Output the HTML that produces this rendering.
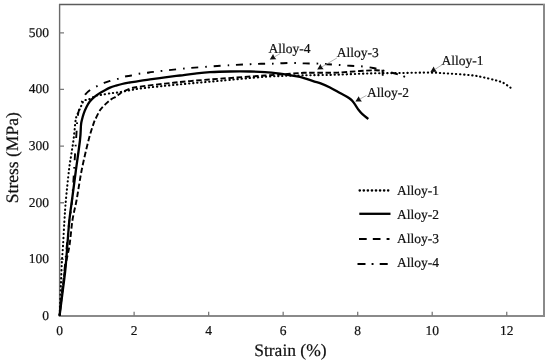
<!DOCTYPE html>
<html><head><meta charset="utf-8"><title>Stress-strain curves</title><style>
html,body{margin:0;padding:0;background:#fff;}
body{width:550px;height:364px;overflow:hidden;}
svg{display:block;}
text{font-family:"Liberation Serif","Times New Roman",serif;fill:#111;text-rendering:geometricPrecision;stroke:#111;stroke-width:0.2px;}
.tk{font-size:13.5px;}
.ax{font-size:17.5px;}
.lg{font-size:13.5px;}
path{fill:none;}
.c1{stroke:#000;stroke-width:2.1;stroke-dasharray:0.3 3.75;stroke-dashoffset:3.4;stroke-linecap:round;}
.c2{stroke:#000;stroke-width:2.3;}
.c3{stroke:#000;stroke-width:1.9;stroke-dasharray:5.5 2.6;stroke-dashoffset:1.5;}
.c3e{stroke:#000;stroke-width:1.8;}
.c4{stroke:#000;stroke-width:1.9;stroke-dasharray:7 6.9 1.6 6.8;}
</style></head><body>
<svg width="550" height="364" viewBox="0 0 550 364">
<path d="M59.00,4.50 H545.00" stroke="#5c5c5c" stroke-width="1.3" fill="none"/>
<path d="M59.60,3.90 V317.00" stroke="#6a6a6a" stroke-width="1.4" fill="none"/>
<path d="M544.00,3.90 V317.00" stroke="#8a8a8a" stroke-width="2" fill="none"/>
<path d="M58.90,316.00 H545.00" stroke="#8a8a8a" stroke-width="2" fill="none"/>
<path d="M59.60,259.36h4.4 M59.60,202.73h4.4 M59.60,146.09h4.4 M59.60,89.45h4.4 M59.60,32.82h4.4 M134.12,316.00v-4.2 M208.65,316.00v-4.2 M283.17,316.00v-4.2 M357.69,316.00v-4.2 M432.22,316.00v-4.2 M506.74,316.00v-4.2" stroke="#7a7a7a" stroke-width="1.3" fill="none"/>
<text class="tk" x="48.9" y="319.90" text-anchor="end">0</text>
<text class="tk" x="48.9" y="263.26" text-anchor="end">100</text>
<text class="tk" x="48.9" y="206.63" text-anchor="end">200</text>
<text class="tk" x="48.9" y="149.99" text-anchor="end">300</text>
<text class="tk" x="48.9" y="93.35" text-anchor="end">400</text>
<text class="tk" x="48.9" y="36.72" text-anchor="end">500</text>
<text class="tk" x="59.60" y="335.0" text-anchor="middle">0</text>
<text class="tk" x="134.12" y="335.0" text-anchor="middle">2</text>
<text class="tk" x="208.65" y="335.0" text-anchor="middle">4</text>
<text class="tk" x="283.17" y="335.0" text-anchor="middle">6</text>
<text class="tk" x="357.69" y="335.0" text-anchor="middle">8</text>
<text class="tk" x="432.22" y="335.0" text-anchor="middle">10</text>
<text class="tk" x="506.74" y="335.0" text-anchor="middle">12</text>
<text class="ax" x="290.4" y="356.3" text-anchor="middle">Strain (%)</text>
<text class="ax" transform="translate(17.9,157.7) rotate(-90)" x="0" y="0" text-anchor="middle">Stress (MPa)</text>
<path class="c1" d="M59.60,315.60 C59.92,308.00 61.10,279.27 61.50,270.00 C61.90,260.73 61.75,264.00 62.00,260.00 C62.25,256.00 62.60,252.50 63.00,246.00 C63.40,239.50 63.92,228.67 64.40,221.00 C64.88,213.33 65.13,208.50 65.90,200.00 C66.67,191.50 68.12,177.50 69.00,170.00 C69.88,162.50 70.45,160.00 71.20,155.00 C71.95,150.00 72.80,145.50 73.50,140.00 C74.20,134.50 74.98,125.67 75.40,122.00 C75.82,118.33 75.53,119.58 76.00,118.00 C76.47,116.42 77.37,114.43 78.20,112.50 C79.03,110.57 80.27,108.05 81.00,106.40 C81.73,104.75 82.05,103.60 82.60,102.60 C83.15,101.60 83.57,100.87 84.30,100.40 C85.03,99.93 86.00,100.08 87.00,99.80 C88.00,99.52 88.73,99.40 90.30,98.70 C91.87,98.00 94.47,96.25 96.40,95.60 C98.33,94.95 99.57,95.18 101.90,94.80 C104.23,94.42 108.13,93.63 110.40,93.30 C112.67,92.97 113.80,93.02 115.50,92.80 C117.20,92.58 118.18,92.42 120.60,92.00 C123.02,91.58 126.77,90.88 130.00,90.30 C133.23,89.72 134.17,89.25 140.00,88.50 C145.83,87.75 156.67,86.65 165.00,85.80 C173.33,84.95 180.83,84.23 190.00,83.40 C199.17,82.57 207.50,81.90 220.00,80.80 C232.50,79.70 251.67,77.70 265.00,76.80 C278.33,75.90 290.83,75.68 300.00,75.40 C309.17,75.12 313.33,75.23 320.00,75.10 C326.67,74.97 331.67,74.88 340.00,74.60 C348.33,74.32 360.00,73.67 370.00,73.40 C380.00,73.13 390.00,73.13 400.00,73.00 C410.00,72.87 421.67,72.50 430.00,72.60 C438.33,72.70 443.03,73.15 450.00,73.60 C456.97,74.05 466.20,74.67 471.80,75.30 C477.40,75.93 479.65,76.57 483.60,77.40 C487.55,78.23 492.23,79.40 495.50,80.30 C498.77,81.20 500.70,81.58 503.20,82.80 C505.70,84.02 509.28,86.80 510.50,87.60"/>
<path class="c3" d="M59.60,315.60 C60.47,308.00 63.17,281.60 64.80,270.00 C66.43,258.40 68.12,254.33 69.40,246.00 C70.68,237.67 71.30,227.67 72.50,220.00 C73.70,212.33 75.07,208.33 76.60,200.00 C78.13,191.67 79.70,180.00 81.70,170.00 C83.70,160.00 86.58,147.85 88.60,140.00 C90.62,132.15 92.57,126.57 93.80,122.90 C95.03,119.23 95.08,119.92 96.00,118.00 C96.92,116.08 98.33,113.07 99.30,111.40 C100.27,109.73 100.85,109.13 101.80,108.00 C102.75,106.87 103.85,105.73 105.00,104.60 C106.15,103.47 107.62,102.12 108.70,101.20 C109.78,100.28 110.23,99.90 111.50,99.10 C112.77,98.30 115.05,97.20 116.30,96.40 C117.55,95.60 117.88,95.10 119.00,94.30 C120.12,93.50 121.05,92.58 123.00,91.60 C124.95,90.62 127.87,89.23 130.70,88.40 C133.53,87.57 134.28,87.40 140.00,86.60 C145.72,85.80 156.67,84.52 165.00,83.60 C173.33,82.68 180.83,81.92 190.00,81.10 C199.17,80.28 207.50,79.63 220.00,78.70 C232.50,77.77 253.33,76.32 265.00,75.50 C276.67,74.68 283.50,74.25 290.00,73.80 C296.50,73.35 299.00,72.97 304.00,72.80 C309.00,72.63 314.33,72.83 320.00,72.80 C325.67,72.77 331.33,72.90 338.00,72.60 C344.67,72.30 353.83,71.38 360.00,71.00 C366.17,70.62 371.50,70.37 375.00,70.30 C378.50,70.23 380.00,70.55 381.00,70.60"/>
<path class="c3e" d="M382.4,69.8 L382.8,75.8"/>
<path class="c4" d="M59.60,315.60 C60.42,308.00 63.30,281.60 64.50,270.00 C65.70,258.40 66.02,254.00 66.80,246.00 C67.58,238.00 68.55,227.67 69.20,222.00 C69.85,216.33 70.22,215.67 70.70,212.00 C71.18,208.33 71.62,205.67 72.10,200.00 C72.58,194.33 73.12,185.50 73.60,178.00 C74.08,170.50 74.52,162.50 75.00,155.00 C75.48,147.50 76.12,138.83 76.50,133.00 C76.88,127.17 76.97,123.50 77.30,120.00 C77.63,116.50 77.98,114.33 78.50,112.00 C79.02,109.67 79.65,108.17 80.40,106.00 C81.15,103.83 82.17,100.95 83.00,99.00 C83.83,97.05 84.20,95.82 85.40,94.30 C86.60,92.78 88.25,91.27 90.20,89.90 C92.15,88.53 94.78,87.27 97.10,86.10 C99.42,84.93 101.98,83.75 104.10,82.90 C106.22,82.05 107.52,81.68 109.80,81.00 C112.08,80.32 115.25,79.55 117.80,78.80 C120.35,78.05 122.83,77.05 125.10,76.50 C127.37,75.95 129.07,75.97 131.40,75.50 C133.73,75.03 136.45,74.17 139.10,73.70 C141.75,73.23 144.65,73.03 147.30,72.70 C149.95,72.37 147.88,72.48 155.00,71.70 C162.12,70.92 177.50,69.08 190.00,68.00 C202.50,66.92 220.00,65.83 230.00,65.20 C240.00,64.57 244.83,64.43 250.00,64.20 C255.17,63.97 257.33,63.88 261.00,63.80 C264.67,63.72 268.33,63.80 272.00,63.70 C275.67,63.60 279.30,63.32 283.00,63.20 C286.70,63.08 290.53,62.97 294.20,63.00 C297.87,63.03 301.30,63.32 305.00,63.40 C308.70,63.48 312.73,63.37 316.40,63.50 C320.07,63.63 323.37,63.97 327.00,64.20 C330.63,64.43 334.37,64.63 338.20,64.90 C342.03,65.17 346.20,65.57 350.00,65.80 C353.80,66.03 357.17,65.93 361.00,66.30 C364.83,66.67 369.50,67.33 373.00,68.00 C376.50,68.67 378.67,69.47 382.00,70.30 C385.33,71.13 389.33,72.00 393.00,73.00 C396.67,74.00 402.17,75.75 404.00,76.30"/>
<path class="c2" d="M59.60,315.60 C60.14,311.33 61.93,297.27 62.85,290.00 C63.77,282.73 64.54,277.00 65.10,272.00 C65.66,267.00 65.83,264.33 66.20,260.00 C66.57,255.67 66.77,252.67 67.30,246.00 C67.83,239.33 68.55,228.17 69.40,220.00 C70.25,211.83 71.33,205.17 72.40,197.00 C73.47,188.83 74.53,180.50 75.80,171.00 C77.07,161.50 79.13,147.67 80.00,140.00 C80.87,132.33 80.68,128.33 81.00,125.00 C81.32,121.67 81.45,121.90 81.90,120.00 C82.35,118.10 82.93,115.77 83.70,113.60 C84.47,111.43 85.48,109.02 86.50,107.00 C87.52,104.98 88.52,103.15 89.80,101.50 C91.08,99.85 92.73,98.37 94.20,97.10 C95.67,95.83 96.88,95.02 98.60,93.90 C100.32,92.78 102.60,91.45 104.50,90.40 C106.40,89.35 108.08,88.40 110.00,87.60 C111.92,86.80 114.00,86.20 116.00,85.60 C118.00,85.00 119.67,84.52 122.00,84.00 C124.33,83.48 127.00,83.03 130.00,82.50 C133.00,81.97 136.67,81.32 140.00,80.80 C143.33,80.28 145.83,79.97 150.00,79.40 C154.17,78.83 160.00,78.05 165.00,77.40 C170.00,76.75 175.00,76.13 180.00,75.50 C185.00,74.87 190.00,74.15 195.00,73.60 C200.00,73.05 204.17,72.55 210.00,72.20 C215.83,71.85 223.33,71.62 230.00,71.50 C236.67,71.38 244.17,71.40 250.00,71.50 C255.83,71.60 260.00,71.73 265.00,72.10 C270.00,72.47 275.83,73.18 280.00,73.70 C284.17,74.22 286.67,74.67 290.00,75.20 C293.33,75.73 297.12,76.25 300.00,76.90 C302.88,77.55 304.88,78.32 307.30,79.10 C309.72,79.88 312.38,80.92 314.50,81.60 C316.62,82.28 317.42,82.22 320.00,83.20 C322.58,84.18 326.67,85.85 330.00,87.50 C333.33,89.15 337.40,91.70 340.00,93.10 C342.60,94.50 344.05,95.03 345.60,95.90 C347.15,96.77 348.22,97.52 349.30,98.30 C350.38,99.08 351.32,99.82 352.10,100.60 C352.88,101.38 353.37,102.13 354.00,103.00 C354.63,103.87 355.12,104.63 355.90,105.80 C356.68,106.97 357.62,108.60 358.70,110.00 C359.78,111.40 360.80,112.70 362.40,114.20 C364.00,115.70 367.32,118.20 368.30,119.00"/>
<circle cx="404.2" cy="76.6" r="1.05" fill="#000"/>
<path class="c1" d="M359.6,190.5 H388.3" style="stroke-dasharray:0.35 3.71;stroke-width:2.3;stroke-dashoffset:0"/>
<path class="c2" d="M359.3,213.8 H390.5"/>
<path class="c3" d="M359,239 H389.5" style="stroke-dasharray:7.7 6.1;stroke-dashoffset:0"/>
<path class="c4" d="M357.5,264 H387.7" style="stroke-dasharray:8 6.1 1.9 6.2"/>
<text class="lg" x="397.0" y="194.70">Alloy-1</text>
<text class="lg" x="397.0" y="219.00">Alloy-2</text>
<text class="lg" x="397.0" y="242.90">Alloy-3</text>
<text class="lg" x="397.0" y="267.30">Alloy-4</text>
<text class="lg" x="268.40" y="52.50">Alloy-4</text>
<line x1="274.40" y1="56.90" x2="280.20" y2="53.60" stroke="#a0a0a0" stroke-width="0.8"/>
<polygon points="269.80,59.50 273.10,54.10 274.40,56.90 276.30,59.30" fill="#111"/>
<text class="lg" x="336.70" y="57.20">Alloy-3</text>
<line x1="321.80" y1="66.90" x2="336.90" y2="58.00" stroke="#a0a0a0" stroke-width="0.8"/>
<polygon points="317.20,69.50 320.50,64.10 321.80,66.90 323.70,69.30" fill="#111"/>
<text class="lg" x="441.40" y="64.90">Alloy-1</text>
<line x1="435.00" y1="69.40" x2="442.00" y2="64.80" stroke="#a0a0a0" stroke-width="0.8"/>
<polygon points="430.40,72.00 433.70,66.60 435.00,69.40 436.90,71.80" fill="#111"/>
<text class="lg" x="366.90" y="97.30">Alloy-2</text>
<line x1="360.00" y1="99.00" x2="366.50" y2="95.40" stroke="#a0a0a0" stroke-width="0.8"/>
<polygon points="355.40,101.60 358.70,96.20 360.00,99.00 361.90,101.40" fill="#111"/>
</svg>
</body></html>
